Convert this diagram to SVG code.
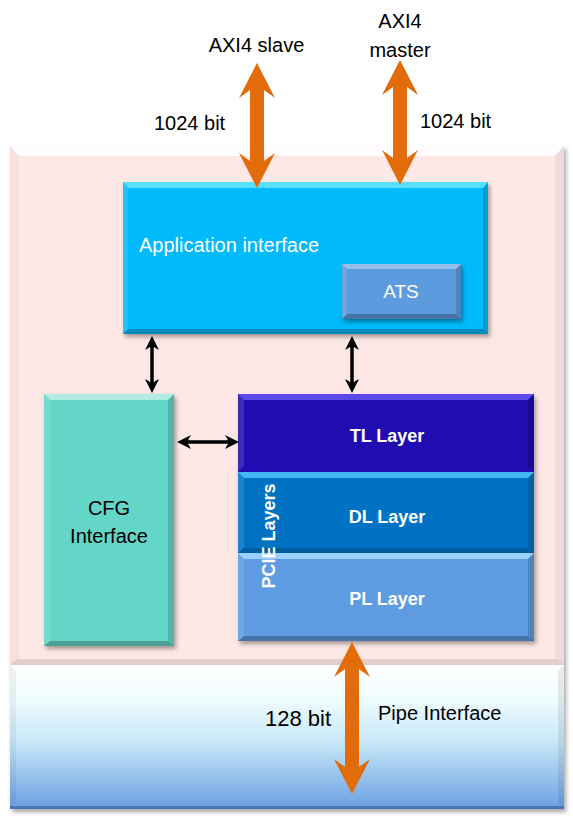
<svg xmlns="http://www.w3.org/2000/svg" width="573" height="832" viewBox="0 0 573 832">
<defs>
<style>
.t{font-family:"Liberation Sans",Arial,sans-serif;font-size:20px;fill:#000}
.w{fill:#fff}
.b{font-weight:bold;font-size:18px}
.bt{fill:#fff;opacity:.35}
.bb{fill:#000;opacity:.25}
.bl{fill:#fff;opacity:.12}
.br{fill:#000;opacity:.15}
.blk{stroke:#000;stroke-width:3.5;fill:none;marker-start:url(#ah);marker-end:url(#ah)}
.org{fill:#E36C0A}
</style>
<filter id="sh" x="-10%" y="-10%" width="120%" height="120%">
<feDropShadow dx="2" dy="3" stdDeviation="2" flood-color="#000" flood-opacity="0.35"/>
</filter>
<linearGradient id="pipeG" x1="0" y1="0" x2="0" y2="1">
<stop offset="0" stop-color="#FFFFFF"/>
<stop offset="0.25" stop-color="#EEFBFE"/>
<stop offset="0.55" stop-color="#C5E6F8"/>
<stop offset="1" stop-color="#6A9FE2"/>
</linearGradient>
<marker id="ah" viewBox="0 -7 14 14" refX="4" refY="0" markerWidth="14" markerHeight="14" markerUnits="userSpaceOnUse" orient="auto-start-reverse">
<path d="M14,0 L0,-7 L4,0 L0,7 Z" fill="#000"/>
</marker>
</defs>

<g id="outer">
<rect x="10" y="146" width="554" height="519" fill="#FDE8E6" filter="url(#sh)"/>
<polygon points="10,146 564,146 555,156 19,156" fill="#fff" opacity="0.9"/>
<polygon points="10,146 19,156 19,658 10,665" fill="#000" opacity="0.03"/>
<polygon points="564,146 555,156 555,658 564,665" fill="#000" opacity="0.06"/>
<polygon points="10,665 564,665 557,659 17,659" fill="#000" opacity="0.1"/>
</g>

<g id="pipe">
<rect x="10" y="665" width="554" height="144" fill="url(#pipeG)" filter="url(#sh)"/>
<polygon points="10,665 564,665 558,671 16,671" fill="#fff" opacity="0.6"/>
<rect x="10" y="806" width="554" height="3" fill="#4A76B8"/>
<polygon points="10,665 16,671 16,803 10,809" fill="#000" opacity="0.05"/>
<polygon points="564,665 558,671 558,803 564,809" fill="#000" opacity="0.08"/>
<text class="t" x="378" y="720">Pipe Interface</text>
<text class="t" x="265" y="726" style="font-size:22px">128 bit</text>
</g>

<g id="app">
<rect x="123" y="182" width="365" height="152" fill="#05BAFB" filter="url(#sh)"/>
<polygon class="bt" points="123,182 488,182 483,188 128,188" style="fill:#7FF0FF;opacity:.7"/>
<polygon class="bb" points="123,334 488,334 483,329 128,329"/>
<polygon class="bl" points="123,182 128,188 128,329 123,334"/>
<polygon class="br" points="488,182 483,188 483,329 488,334"/>
<text class="t w" x="139" y="252">Application interface</text>
</g>

<g id="ats">
<rect x="342" y="264" width="119" height="55" fill="#5B9BDD" filter="url(#sh)"/>
<polygon class="bt" points="342,264 461,264 456,269 347,269"/>
<polygon class="bb" points="342,319 461,319 456,314 347,314"/>
<polygon class="bl" points="342,264 347,269 347,314 342,319"/>
<polygon class="br" points="461,264 456,269 456,314 461,319"/>
<text class="t w" x="401" y="298" text-anchor="middle" style="font-size:19px">ATS</text>
</g>

<g id="cfg">
<rect x="44" y="394" width="130" height="252" fill="#64D6C7" filter="url(#sh)"/>
<polygon class="bt" points="44,394 174,394 168,400 50,400" style="opacity:.5"/>
<polygon class="bb" points="44,646 174,646 168,641 50,641"/>
<polygon class="bl" points="44,394 50,400 50,641 44,646"/>
<polygon class="br" points="174,394 168,400 168,641 174,646"/>
<text class="t" x="109" y="515" text-anchor="middle">CFG</text>
<text class="t" x="109" y="543" text-anchor="middle">Interface</text>
</g>

<g id="pcie">
<rect x="238" y="394" width="296" height="247" fill="#5E9BE0" filter="url(#sh)"/>
<g id="tl">
<rect x="238" y="394" width="296" height="78" fill="#200CB0"/>
<polygon class="bt" points="238,394 534,394 528,400 244,400" style="fill:#6A5BFF;opacity:.8"/>
<polygon class="bl" points="238,394 244,400 244,466 238,472"/>
<polygon class="br" points="534,394 528,400 528,466 534,472"/>
<text class="t w b" x="387" y="442" text-anchor="middle">TL Layer</text>
</g>
<g id="dl">
<rect x="238" y="472" width="296" height="81" fill="#0072C4"/>
<polygon class="bt" points="238,472 534,472 528,478 244,478" style="fill:#4FC3FF;opacity:.85"/>
<polygon class="bl" points="238,472 244,478 244,547 238,553"/>
<polygon class="br" points="534,472 528,478 528,547 534,553"/>
<polygon points="238,553 534,553 528,548 244,548" fill="#000" opacity="0.18"/>
<text class="t w b" x="387" y="523" text-anchor="middle">DL Layer</text>
</g>
<g id="pl">
<rect x="238" y="553" width="296" height="88" fill="#5E9BE0"/>
<polygon class="bt" points="238,553 534,553 528,559 244,559" style="fill:#A5D8FF;opacity:.85"/>
<polygon class="bb" points="238,641 534,641 528,636 244,636"/>
<polygon class="bl" points="238,553 244,559 244,636 238,641"/>
<polygon class="br" points="534,553 528,559 528,636 534,641"/>
<text class="t w b" x="387" y="605" text-anchor="middle">PL Layer</text>
</g>
<text class="t w b" transform="translate(275,536) rotate(-90)" text-anchor="middle">PCIE Layers</text>
</g>

<g id="labels">
<text class="t" x="256.5" y="52" text-anchor="middle">AXI4 slave</text>
<text class="t" x="400" y="28" text-anchor="middle">AXI4</text>
<text class="t" x="400" y="57" text-anchor="middle">master</text>
<text class="t" x="154" y="130">1024 bit</text>
<text class="t" x="420" y="128">1024 bit</text>
</g>

<g id="connectors">
<path class="org" d="M257,63 L275,98 L264,90 L264,161 L275,153 L257,188 L239,153 L250,161 L250,90 L239,98 Z"/>
<path class="org" d="M400,60 L418,95 L407,87 L407,158 L418,150 L400,185 L382,150 L393,158 L393,87 L382,95 Z"/>
<path class="org" d="M352,642 L370,677 L359,669 L359,767 L370,759 L352,794 L334,759 L345,767 L345,669 L334,677 Z"/>
<line class="blk" x1="152" y1="346" x2="152" y2="383"/>
<line class="blk" x1="352" y1="346" x2="352" y2="383"/>
<line class="blk" x1="187" y1="442" x2="229" y2="442"/>
</g>
</svg>
